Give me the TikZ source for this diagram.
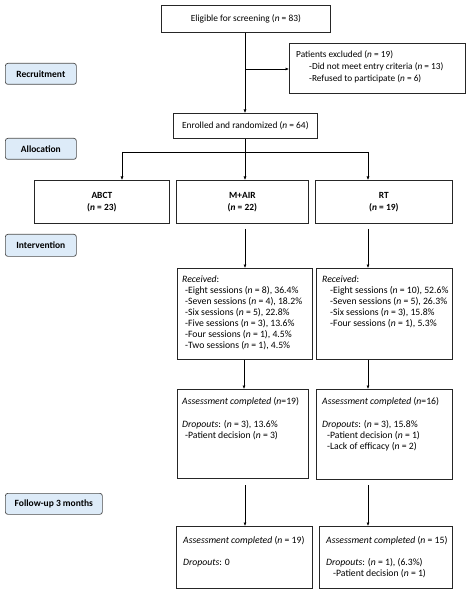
\documentclass[tikz,border=0pt]{standalone}
\usepackage{fontspec}
\setmainfont{Carlito}
\usetikzlibrary{arrows.meta}
\begin{document}
\begin{tikzpicture}[x=1pt,y=-1pt,
  box/.style={draw=black!85, line width=0.7pt, rectangle, inner sep=0pt, anchor=north west},
  tag/.style={draw=black!70, line width=0.7pt, fill=tagfill, rounded corners=2.5pt, inner sep=0pt, anchor=north west, font=\fontsize{9.5}{11}\selectfont\bfseries},
  txt/.style={anchor=north west, align=left, inner sep=0pt, font=\fontsize{9.7}{11}\selectfont},
  ctxt/.style={align=center, inner sep=0pt, font=\fontsize{9.4}{12}\selectfont},
  arr/.style={-{Latex[length=3.5pt,width=3pt]}, line width=0.6pt},
  ln/.style={line width=0.6pt}]
\definecolor{tagfill}{HTML}{DDEBF8}
\useasboundingbox (0,0) rectangle (474,593);
% tags
\node[tag, minimum width=71pt, minimum height=21pt] (rec) at (5,63) {Recruitment};
\node[tag, minimum width=71pt, minimum height=21pt] (alc) at (5,138) {Allocation};
\node[tag, minimum width=71pt, minimum height=22pt] (int) at (5,234) {Intervention};
\node[tag, minimum width=97pt, minimum height=21pt] (fol) at (5,493) {Follow-up 3 months};
% top boxes
\node[box, minimum width=169pt, minimum height=27pt] (elig) at (161,5) {};
\node[ctxt] at (elig.center) {Eligible for screening (\textit{n} = 83)};
\node[box, minimum width=176pt, minimum height=50pt] (excl) at (289,43) {};
\node[txt, font=\fontsize{9.3}{11.8}\selectfont] at (296,51) {Patients excluded (\textit{n} = 19)\\
\hspace{13pt}-Did not meet entry criteria (\textit{n} = 13)\\
\hspace{13pt}-Refused to participate (\textit{n} = 6)};
\node[box, minimum width=144pt, minimum height=25pt] (enr) at (173,113) {};
\node[ctxt] at (enr.center) {Enrolled and randomized (\textit{n} = 64)};
% group boxes
\node[box, minimum width=135pt, minimum height=43pt] (abct) at (34,180) {};
\node[ctxt, font=\fontsize{9.4}{12}\selectfont\bfseries] at (abct.center) {ABCT\\(\textit{n} = 23)};
\node[box, minimum width=132pt, minimum height=43pt] (mair) at (176,180) {};
\node[ctxt, font=\fontsize{9.4}{12}\selectfont\bfseries] at (mair.center) {M+AIR\\(\textit{n} = 22)};
\node[box, minimum width=137pt, minimum height=43pt] (rt) at (315,180) {};
\node[ctxt, font=\fontsize{9.4}{12}\selectfont\bfseries] at (rt.center) {RT\\(\textit{n} = 19)};
% received
\node[box, minimum width=135pt, minimum height=91pt] (rc1) at (177,268) {};
\node[txt] at (182,276) {\textit{Received}:\\
\hspace{3pt}-Eight sessions (\textit{n} = 8), 36.4\%\\
\hspace{3pt}-Seven sessions (\textit{n} = 4), 18.2\%\\
\hspace{3pt}-Six sessions (\textit{n} = 5), 22.8\%\\
\hspace{3pt}-Five sessions (\textit{n} = 3), 13.6\%\\
\hspace{3pt}-Four sessions (\textit{n} = 1), 4.5\%\\
\hspace{3pt}-Two sessions (\textit{n} = 1), 4.5\%};
\node[box, minimum width=136pt, minimum height=91pt] (rc2) at (316,268) {};
\node[txt] at (322,276) {\textit{Received}:\\
\hspace{8pt}-Eight sessions (\textit{n} = 10), 52.6\%\\
\hspace{8pt}-Seven sessions (\textit{n} = 5), 26.3\%\\
\hspace{8pt}-Six sessions (\textit{n} = 3), 15.8\%\\
\hspace{8pt}-Four sessions (\textit{n} = 1), 5.3\%};
% assessment
\node[box, minimum width=131pt, minimum height=89pt] (as1) at (177,389) {};
\node[txt] at (182,397) {\textit{Assessment completed} (\textit{n}=19)\\[12pt]
\textit{Dropouts}: (\textit{n} = 3), 13.6\%\\
\hspace{3pt}-Patient decision (\textit{n} = 3)};
\node[box, minimum width=136pt, minimum height=90pt] (as2) at (316,389) {};
\node[txt] at (322,397) {\textit{Assessment completed} (\textit{n}=16)\\[12pt]
\textit{Dropouts}: (\textit{n} = 3), 15.8\%\\
\hspace{5pt}-Patient decision (\textit{n} = 1)\\
\hspace{5pt}-Lack of efficacy (\textit{n} = 2)};
% follow-up
\node[box, minimum width=136pt, minimum height=62pt] (fu1) at (176,526) {};
\node[txt] at (183,536) {\textit{Assessment completed} (\textit{n} = 19)\\[11pt]
\textit{Dropouts}: 0};
\node[box, minimum width=133pt, minimum height=62pt] (fu2) at (319,526) {};
\node[txt] at (326,536) {\textit{Assessment completed} (\textit{n} = 15)\\[11pt]
\textit{Dropouts}: (\textit{n} = 1), (6.3\%)\\
\hspace{7pt}-Patient decision (\textit{n} = 1)};
% connectors
\coordinate (j1) at (245,69);
\draw[arr] (elig.south -| j1) -- (enr.north -| j1);
\draw[arr] (j1) -- (excl.west |- j1);
\coordinate (br) at (245,152);
\coordinate (bl) at (122,152);
\coordinate (brr) at (368,152);
\draw[ln] (enr.south -| br) -- (br);
\draw[ln] (bl) -- (brr);
\draw[arr] (bl) -- (abct.north -| bl);
\draw[arr] (br) -- (mair.north -| br);
\draw[arr] (brr) -- (rt.north -| brr);
\coordinate (m1) at (245,229);
\coordinate (r1) at (368,229);
\draw[arr] (m1) -- (rc1.north -| m1);
\draw[arr] (r1) -- (rc2.north -| r1);
\coordinate (m3) at (244,0);
\coordinate (r3) at (368,0);
\draw[arr] (rc1.south -| m3) -- (as1.north -| m3);
\draw[arr] (rc2.south -| r3) -- (as2.north -| r3);
\coordinate (m2) at (245,485);
\coordinate (r2) at (368,485);
\draw[arr] (m2) -- (fu1.north -| m2);
\draw[arr] (r2) -- (fu2.north -| r2);
\end{tikzpicture}
\end{document}
